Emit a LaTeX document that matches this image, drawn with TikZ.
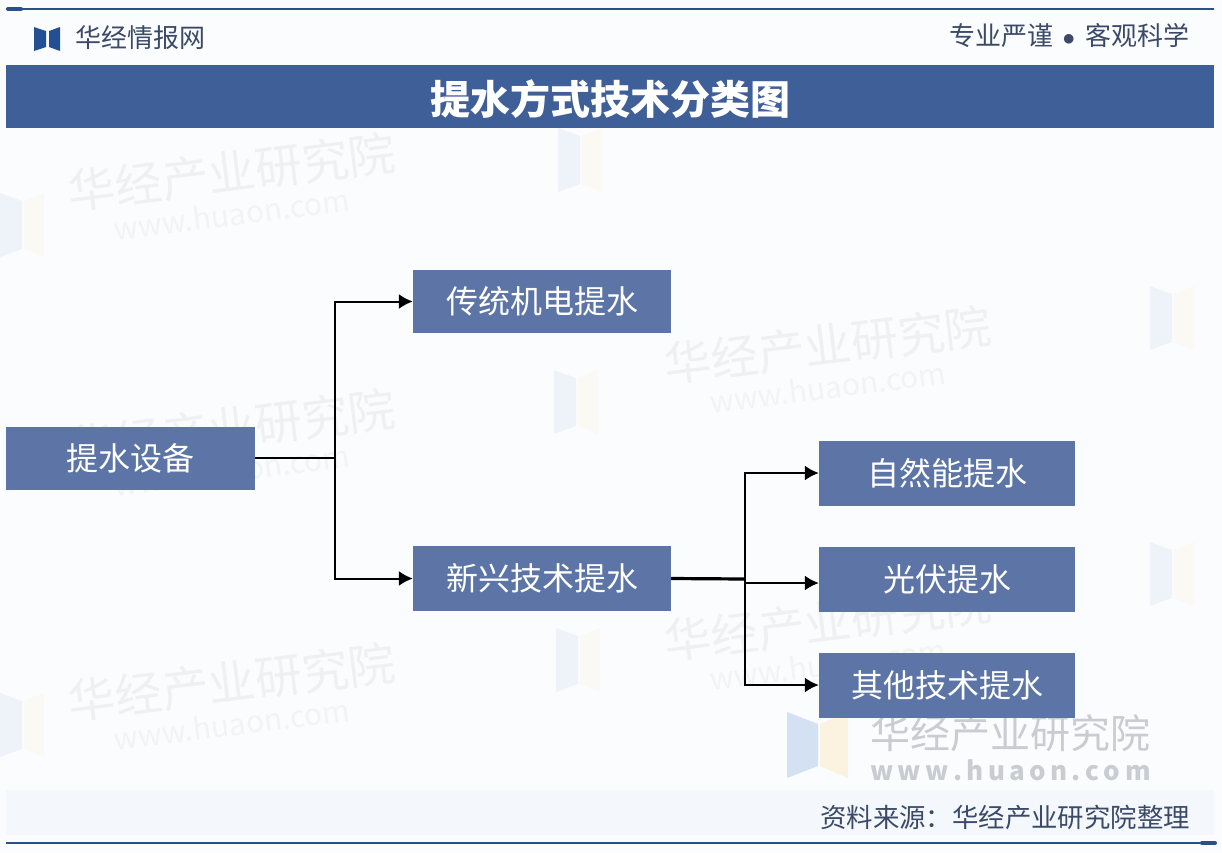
\documentclass[tikz,border=0pt]{standalone}
\usepackage{fontspec}
\setmainfont{Noto Sans CJK SC}
\usetikzlibrary{arrows.meta}

\definecolor{pagebg}{HTML}{FBFCFE}
\definecolor{footbg}{HTML}{F4F7FB}
\definecolor{rulecol}{HTML}{2B4F86}
\definecolor{titlecol}{HTML}{3F5F99}
\definecolor{boxcol}{HTML}{5C75A6}
\definecolor{headtext}{HTML}{3A4A68}
\definecolor{logocol}{HTML}{234F94}
\definecolor{wmgray}{HTML}{C9CDD2}
\definecolor{wmblue}{HTML}{D3E1F3}
\definecolor{wmyellow}{HTML}{FBF3DF}

\tikzset{
  bluebox/.style={fill=boxcol, text=white, minimum height=63pt, inner sep=0pt,
    font=\fontsize{32}{32}\selectfont},
  linkline/.style={black, line width=2pt},
  linkarrow/.style={black, line width=2pt, -{Latex[length=14pt,width=15pt]}},
  headlabel/.style={text=headtext, inner sep=0pt, font=\fontsize{26}{26}\selectfont},
  bigmark/.style={text=wmgray, inner sep=0pt, font=\fontsize{40}{40}\selectfont},
  urlmark/.style={text=wmgray, inner sep=0pt, font=\fontsize{26}{26}\selectfont\bfseries},
  faintmark/.style={opacity=0.25, inner sep=0pt, text=wmgray, font=\fontsize{47}{47}\selectfont},
  fainturl/.style={opacity=0.18, inner sep=0pt, text=wmgray, font=\fontsize{30}{30}\selectfont}
}

\begin{document}
\begin{tikzpicture}[x=1pt, y=-1pt]
            \useasboundingbox (0,0) rectangle (1222,852);
            \fill[pagebg] (0,0) rectangle (1222,852);

            % faint background marks
            \foreach \i/\mx/\my in {a/232/172, b/828/345, c/232/428, d/828/622, e/232/682}{
              \node[faintmark, rotate=7] (mark\i) at (\mx,\my) {华经产业研究院};
              \node[fainturl, rotate=7] (url\i) at (\mx,\my+42) {www.huaon.com};
            }
            \foreach \lx/\ly in {578/160, 574/402, 1170/318, 1170/574, 576/660, 20/225, 20/725}{
              \fill[wmblue, opacity=0.3] (\lx-20,\ly-32) -- (\lx+2,\ly-24) -- (\lx+2,\ly+24) -- (\lx-20,\ly+32) -- cycle;
              \fill[wmyellow, opacity=0.3] (\lx+4,\ly-24) -- (\lx+24,\ly-32) -- (\lx+24,\ly+32) -- (\lx+4,\ly+24) -- cycle;
            }

            % header
            \draw[rulecol, line width=1.6pt] (6,9) -- (1214,9);
            \draw[rulecol, line width=4pt, line cap=round] (8,9) -- (21,9);
            \fill[logocol] (34,27) -- (46,31) -- (46,47) -- (34,51) -- cycle;
            \fill[logocol] (60,27) -- (49,31) -- (49,47) -- (60,51) -- cycle;
            \node[headlabel, anchor=west] (brand) at (75,38) {华经情报网};
            \node[headlabel, anchor=east] (motto) at (1190,36) {专业严谨\hspace{9pt}$\bullet$\hspace{5pt} 客观科学};

            % title bar
            \node[fill=titlecol, minimum width=1208pt, minimum height=63pt, inner sep=0pt,
              text=white, font=\fontsize{40}{40}\selectfont\bfseries] (title) at (610,96.5) {\raisebox{-18pt}[0pt][0pt]{提水方式技术分类图}};

            % watermark near the footer
            \fill[wmblue] (787,712) -- (818,724) -- (818,766) -- (787,778) -- cycle;
            \fill[wmyellow] (820,724) -- (848,712) -- (848,778) -- (820,766) -- cycle;
            \node[bigmark, anchor=west] (markmain) at (870,733) {华经产业研究院};
            \node[urlmark, anchor=west] (urlmain) at (870,770) {w\,w\,w\,.\,h\,u\,a\,o\,n\,.\,c\,o\,\kern1pt m};

            % boxes
            \node[bluebox, minimum width=249pt] (pump) at (130.5,458) {提水设备};
            \node[bluebox, minimum width=258pt] (classic) at (542,301.5) {传统机电提水};
            \node[bluebox, minimum width=258pt, minimum height=65pt] (newtech) at (542,578.5) {新兴技术提水};
            \node[bluebox, minimum width=256pt, minimum height=65pt] (nature) at (947,473) {自然能提水};
            \node[bluebox, minimum width=256pt, minimum height=65pt] (solar) at (947,579) {光伏提水};
            \node[bluebox, minimum width=256pt, minimum height=65pt] (other) at (947,685) {其他技术提水};

            % connectors
            \coordinate (splitA) at (335,458);
            \coordinate (splitB) at (745,579);
            \draw[linkline] (pump.east) -- (splitA);
            \draw[linkarrow] (splitA) |- (classic.west);
            \draw[linkarrow] (splitA) |- (newtech.west);
            \draw[black, line width=3.2pt] (newtech.east) -- (splitB);
            \draw[linkarrow] (splitB) |- (nature.west);
            \draw[linkarrow] (splitB) |- ([yshift=-4pt]solar.west);
            \draw[linkarrow] (splitB) |- (other.west);

            % footer
            \fill[footbg] (6,790) rectangle (1214,835);
            \node[headlabel, anchor=east, font=\fontsize{26.4}{26.4}\selectfont] (source) at (1190,817) {资料来源：华经产业研究院整理};
            \draw[rulecol, line width=1.6pt] (6,843) -- (1214,843);
            \draw[rulecol, line width=4pt, line cap=round] (1202,843) -- (1215,843);
        \end{tikzpicture}
\end{document}
